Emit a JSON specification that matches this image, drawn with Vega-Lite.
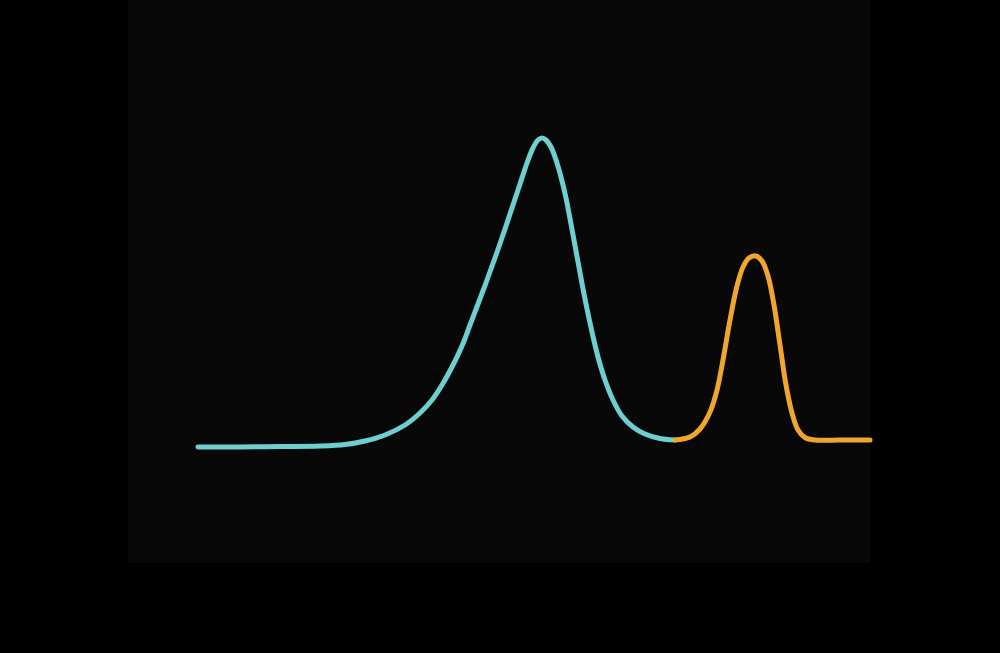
{
  "$schema": "https://vega.github.io/schema/vega-lite/v6.json",
  "autosize": {"type": "fit", "contains": "padding"},
  "width": 1000,
  "height": 653,
  "padding": 0,
  "background": "#000000",
  "config": {"view": {"stroke": null}},
  "datasets": {
    "panel": [{"x0": 128, "x1": 870, "y0": 0, "y1": 563}],
    "curves": [
      {"s": "a", "x": 198, "y": 447}, {"s": "a", "x": 240, "y": 447}, {"s": "a", "x": 280, "y": 446.5},
      {"s": "a", "x": 320, "y": 446}, {"s": "a", "x": 345, "y": 444.5}, {"s": "a", "x": 365, "y": 441},
      {"s": "a", "x": 385, "y": 435}, {"s": "a", "x": 405, "y": 425}, {"s": "a", "x": 420, "y": 413},
      {"s": "a", "x": 432, "y": 400}, {"s": "a", "x": 442, "y": 385}, {"s": "a", "x": 452, "y": 367},
      {"s": "a", "x": 462, "y": 346}, {"s": "a", "x": 470, "y": 325}, {"s": "a", "x": 478, "y": 304},
      {"s": "a", "x": 487, "y": 280}, {"s": "a", "x": 496, "y": 255}, {"s": "a", "x": 505, "y": 229},
      {"s": "a", "x": 513, "y": 205}, {"s": "a", "x": 520, "y": 184}, {"s": "a", "x": 527, "y": 163},
      {"s": "a", "x": 533, "y": 148}, {"s": "a", "x": 538, "y": 140}, {"s": "a", "x": 542, "y": 138},
      {"s": "a", "x": 546, "y": 140}, {"s": "a", "x": 551, "y": 147}, {"s": "a", "x": 556, "y": 160},
      {"s": "a", "x": 561, "y": 177}, {"s": "a", "x": 566, "y": 198}, {"s": "a", "x": 571, "y": 224},
      {"s": "a", "x": 576, "y": 251}, {"s": "a", "x": 581, "y": 278}, {"s": "a", "x": 586, "y": 304},
      {"s": "a", "x": 592, "y": 332}, {"s": "a", "x": 598, "y": 357}, {"s": "a", "x": 605, "y": 380},
      {"s": "a", "x": 613, "y": 400}, {"s": "a", "x": 622, "y": 416}, {"s": "a", "x": 633, "y": 427},
      {"s": "a", "x": 645, "y": 434}, {"s": "a", "x": 660, "y": 438.5}, {"s": "a", "x": 675, "y": 440},
      {"s": "b", "x": 675, "y": 440}, {"s": "b", "x": 690, "y": 437}, {"s": "b", "x": 700, "y": 429},
      {"s": "b", "x": 710, "y": 412}, {"s": "b", "x": 717, "y": 390}, {"s": "b", "x": 723, "y": 360},
      {"s": "b", "x": 730, "y": 320}, {"s": "b", "x": 737, "y": 286}, {"s": "b", "x": 743, "y": 267},
      {"s": "b", "x": 749, "y": 258}, {"s": "b", "x": 756, "y": 256}, {"s": "b", "x": 762, "y": 261},
      {"s": "b", "x": 768, "y": 276}, {"s": "b", "x": 774, "y": 305}, {"s": "b", "x": 780, "y": 345},
      {"s": "b", "x": 786, "y": 385}, {"s": "b", "x": 792, "y": 413}, {"s": "b", "x": 798, "y": 430},
      {"s": "b", "x": 805, "y": 437.5}, {"s": "b", "x": 815, "y": 440}, {"s": "b", "x": 840, "y": 440},
      {"s": "b", "x": 870, "y": 440}
    ]
  },
  "layer": [
    {
      "data": {"name": "panel"},
      "mark": {"type": "rect", "color": "#080808"},
      "encoding": {
        "x": {"field": "x0", "type": "quantitative", "scale": {"domain": [0, 1000]}, "axis": null},
        "x2": {"field": "x1"},
        "y": {"field": "y0", "type": "quantitative", "scale": {"domain": [0, 653], "reverse": true}, "axis": null},
        "y2": {"field": "y1"}
      }
    },
    {
      "data": {"name": "curves"},
      "mark": {"type": "line", "interpolate": "catmull-rom", "strokeWidth": 5, "strokeCap": "round", "strokeJoin": "round"},
      "encoding": {
        "x": {"field": "x", "type": "quantitative", "scale": {"domain": [0, 1000]}, "axis": null},
        "y": {"field": "y", "type": "quantitative", "scale": {"domain": [0, 653], "reverse": true}, "axis": null},
        "color": {"field": "s", "type": "nominal", "scale": {"domain": ["a", "b"], "range": ["#6dcfcf", "#f0a62c"]}, "legend": null},
        "order": {"field": "x", "type": "quantitative"}
      }
    }
  ]
}
